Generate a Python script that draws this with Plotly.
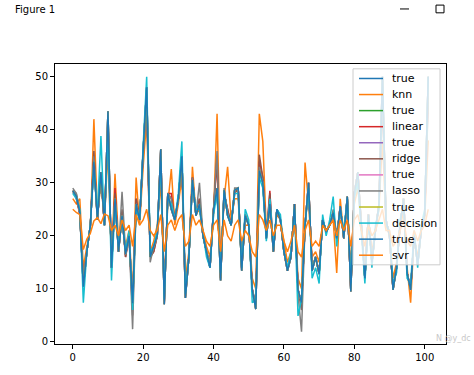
import plotly.graph_objects as go

x_idx = list(range(102))

true_vals = [28.5, 27.5, 24.4, 10.4, 17, 22, 34, 23, 32, 22,
             43.5, 14, 27, 17, 23.8, 16.5, 20, 7.3, 26, 23,
             36, 48, 16, 18, 20, 36.3, 7.1, 28, 25, 23,
             27, 35, 8.3, 16, 30.5, 23.8, 26, 20, 17, 14,
             25, 29, 11.6, 28.6, 23.8, 22, 28.6, 29, 13.4, 23.8,
             22, 9.8, 6.2, 32.3, 30, 19.5, 26, 17, 25, 23,
             17, 13.4, 16, 26, 9.8, 7.4, 22, 30, 13.4, 16,
             12.8, 23, 20.7, 22, 24.4, 19.5, 25.6, 19.5, 27.4, 9.5,
             28, 32, 22, 12, 24, 15, 21, 26, 50, 23,
             20, 9.8, 14, 22, 27, 13, 9.8, 20, 14.5, 21,
             24, 50]

knn_vals = [27, 26, 27, 14, 18, 21, 42, 24, 30, 23,
            36, 15, 31.7, 19, 22, 18, 21, 9, 31, 22,
            33, 42, 17, 19, 22, 30, 11, 26, 32.6, 22,
            26, 31, 12, 17, 33, 24, 25, 21, 18, 16,
            24, 43, 14, 27, 33, 23, 27, 27, 15, 22,
            22, 12, 10, 43, 37.8, 21, 25, 19, 24, 23,
            19, 15, 17, 25, 12, 10, 33.8, 26, 16, 17,
            15, 22, 21, 22, 23, 13, 27, 20, 26, 14,
            26, 29, 22, 13, 23, 17, 21, 25, 38, 22,
            20, 12, 15, 21, 25, 14, 7.4, 20, 16, 21,
            23, 38]

linear_vals = [28.5, 27, 24, 11, 17, 22, 35, 23, 32, 22,
               42, 14, 29, 17, 24, 16, 20, 6, 27, 23,
               36, 47, 16, 17, 20, 36, 7.5, 28, 28, 23,
               27, 35, 8.5, 16, 31, 24, 27, 20, 17, 14,
               25, 34, 12, 28, 25, 22, 28, 29, 14, 24,
               22, 10, 6.5, 34, 31, 20, 28.5, 17, 25, 23,
               17, 13.5, 16, 26, 10, 7, 22, 30, 13.5, 16,
               13, 23, 21, 22, 24, 20, 25.5, 19.5, 27, 10,
               28, 32, 22, 12, 24, 15, 21, 26, 47, 23,
               20, 10, 14, 22, 27, 13, 10, 20, 15, 21,
               24, 47]

ridge_vals = [28, 28, 24, 12, 17, 22, 36, 23, 32, 22,
              42, 14, 28, 17, 25, 16, 20, 5, 27, 23,
              36, 46, 16, 17, 20, 35, 8, 28, 27, 23,
              27, 35, 9, 16, 31, 24, 27, 20, 17, 14,
              25, 35, 12, 28, 25, 22, 28, 29, 14, 24,
              22, 10, 7, 35.3, 31, 20, 28, 17, 25, 23,
              17, 14, 16, 26, 10, 6, 22, 29, 14, 16,
              13, 23, 21, 22, 24, 20, 25, 20, 27, 10,
              28, 31, 22, 12, 24, 15, 21, 26, 46, 23,
              20, 10, 14, 22, 27, 13, 10, 20, 15, 21,
              24, 46]

lasso_vals = [29, 28, 25, 12, 17, 22, 35, 23, 31, 22,
              41, 14, 27, 17, 28.3, 17, 20, 2.4, 26, 23,
              35, 45, 15, 18, 20, 35, 9, 28, 27, 23,
              27, 34, 10, 16, 31, 24, 30, 20, 17, 15,
              25, 36, 12, 29, 24, 22, 29, 29, 14, 24,
              22, 10, 7, 33, 30, 20, 27, 17, 25, 23,
              17, 14, 16, 26, 9, 1.9, 22, 29, 14, 16,
              13, 23, 21, 22, 25, 20, 25, 20, 27, 11,
              28, 31, 22, 12, 24, 15, 21, 26, 45, 23,
              20, 10, 14, 22, 27, 13, 10, 20, 15, 21,
              24, 45]

decision_vals = [28, 27, 25, 7.4, 17, 22, 33, 24, 38.8, 22,
                 40, 11.6, 26, 18, 23, 17, 21, 6, 25, 23,
                 37, 50, 17, 18, 21, 34, 8, 27, 26, 23,
                 28, 37.8, 9, 16, 30, 25, 25, 20, 16, 14,
                 24, 28, 13, 28, 24, 22, 28, 28, 14, 25,
                 23, 7.4, 8, 31, 29, 19, 27, 18, 25, 24,
                 17, 14, 17, 25, 4.9, 8, 22, 29, 12, 14,
                 11, 24, 20, 23, 27.4, 18, 25, 21, 27, 11,
                 27, 30, 21, 11, 23, 14, 22, 25, 50, 22,
                 21, 11, 13, 23, 26, 12, 11, 21, 14, 22,
                 25, 50]

svr_vals = [25, 24.4, 24, 17.4, 19.4, 20.5, 22.8, 23.4, 22.3, 24.1,
            23.8, 21, 22, 20, 23, 21, 22, 18, 24, 22,
            23, 25, 21, 20, 21, 24, 17, 22, 23, 21,
            23, 24, 18, 19, 24, 22, 23, 21, 19, 18,
            22, 23, 17, 23, 20, 19, 22, 23, 19, 21,
            20, 17, 16, 24, 23, 21, 23, 20, 22, 22,
            19, 17, 19, 22, 17, 16, 21, 23, 18, 19,
            18, 22, 21, 22, 23, 20, 23, 21, 23, 18,
            23, 24, 21, 18, 22, 20, 21, 23, 25, 21,
            21, 18, 19, 21, 23, 19, 18, 21, 19, 21,
            22, 25]

x_ticks = [0, 20, 40, 60, 80, 100]
y_ticks = [0, 10, 20, 30, 40, 50]

series = [
    ("true", true_vals, "#1f77b4"),
    ("knn", knn_vals, "#ff7f0e"),
    ("true", true_vals, "#2ca02c"),
    ("linear", linear_vals, "#d62728"),
    ("true", true_vals, "#9467bd"),
    ("ridge", ridge_vals, "#8c564b"),
    ("true", true_vals, "#e377c2"),
    ("lasso", lasso_vals, "#7f7f7f"),
    ("true", true_vals, "#bcbd22"),
    ("decision", decision_vals, "#17becf"),
    ("true", true_vals, "#1f77b4"),
    ("svr", svr_vals, "#ff7f0e"),
]

fig = go.Figure()
for name, vals, color in series:
    fig.add_trace(go.Scatter(x=x_idx, y=vals, mode="lines", name=name,
                             line=dict(color=color, width=1.5), showlegend=False))

# plot-area pixel geometry
L, R, T, B = 55, 446, 64, 354
W, H = 474, 375
def px(xp):
    return (xp - L) / (R - L)
def py(yp):
    return (B - yp) / (B - T)

axis_common = dict(showgrid=False, zeroline=False, showline=True, mirror=True,
                   linecolor="black", linewidth=1, ticks="outside", ticklen=4,
                   tickcolor="black", tickfont=dict(family="DejaVu Sans", size=10, color="black"))

fig.update_layout(
    width=W, height=H,
    margin=dict(l=L, r=W - R, t=T, b=H - B),
    paper_bgcolor="white", plot_bgcolor="white",
    xaxis=dict(range=[-5.05, 106.05], tickvals=x_ticks, **axis_common),
    yaxis=dict(range=[-0.4, 52.4], tickvals=y_ticks, **axis_common),
    showlegend=False,
)

# legend (matplotlib style): box, sample lines, labels
LEG_L, LEG_R, LEG_T, LEG_B = 353, 440, 69, 272
ROW0, ROW_STEP = 79, 16.64
fig.add_shape(type="rect", xref="paper", yref="paper", layer="above",
              x0=px(LEG_L), x1=px(LEG_R), y0=py(LEG_B), y1=py(LEG_T),
              fillcolor="rgba(255,255,255,0.8)", line=dict(color="#cccccc", width=1))
for i, (name, vals, color) in enumerate(series):
    yy = ROW0 + i * ROW_STEP
    fig.add_shape(type="line", xref="paper", yref="paper", layer="above",
                  x0=px(359), x1=px(383), y0=py(yy), y1=py(yy),
                  line=dict(color=color, width=1.5))
    fig.add_annotation(text=name, xref="paper", yref="paper", x=px(390), y=py(yy),
                       xanchor="left", yanchor="middle", showarrow=False,
                       font=dict(family="DejaVu Sans", size=11, color="black"))

# window title bar
fig.add_annotation(text="Figure 1", xref="paper", yref="paper", x=px(13), y=py(8),
                   xanchor="left", yanchor="middle", showarrow=False,
                   font=dict(family="DejaVu Sans", size=10, color="black"))
fig.add_shape(type="line", xref="paper", yref="paper", x0=px(400), x1=px(409),
              y0=py(7), y1=py(7), line=dict(color="black", width=1))
fig.add_shape(type="rect", xref="paper", yref="paper", x0=px(436), x1=px(444),
              y0=py(3), y1=py(11), line=dict(color="black", width=1))
# watermark
fig.add_annotation(text="N @y_dc", xref="paper", yref="paper", x=px(434), y=py(348),
                   xanchor="left", yanchor="middle", showarrow=False,
                   font=dict(family="DejaVu Sans", size=8, color="#c8c8c8"))

fig.write_html("out.html", config={"displayModeBar": False},
               post_script="document.body.style.margin='0';")
